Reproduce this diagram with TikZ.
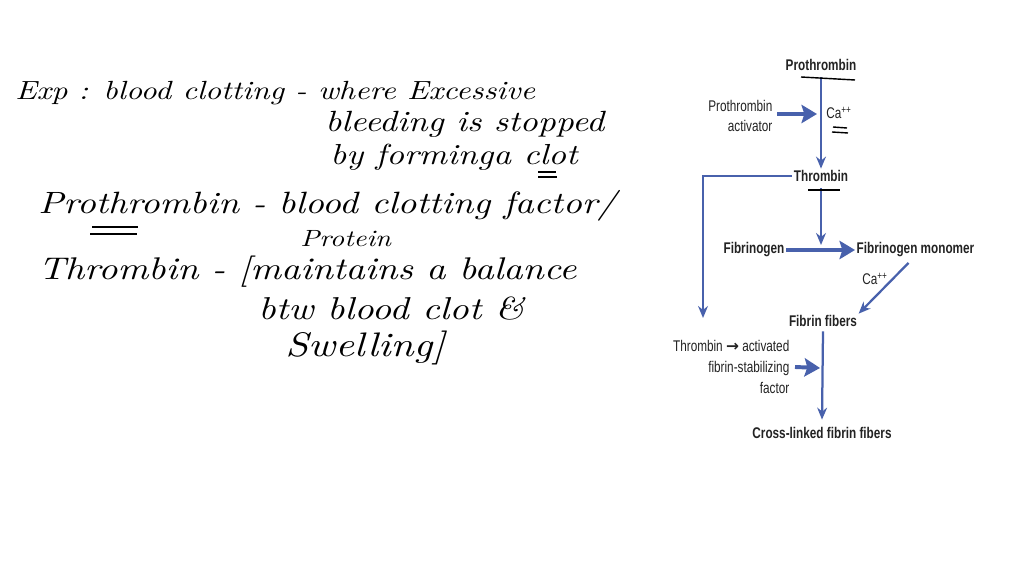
\documentclass[tikz,border=0pt]{standalone}
\usepackage{fontspec}
\usepackage{xcolor}
\usetikzlibrary{arrows.meta, calc}
\newfontfamily\diagfont[FakeStretch=0.76]{Liberation Sans}
\newfontfamily\handfont[FakeStretch=1.2]{lmroman10-italic.otf}
\definecolor{arrowblue}{RGB}{72,97,172}
\definecolor{inkgray}{RGB}{35,35,35}

\begin{document}
\begin{tikzpicture}[x=0.025cm, y=-0.025cm,
    >={Stealth[length=8.5pt, width=7pt]},
    hand/.style={anchor=base west, inner sep=0pt, font=\handfont\fontsize{#1}{#1}\selectfont},
    hand/.default=19,
    lbl/.style={inner sep=1pt, text=inkgray, font=\diagfont\fontsize{11}{14.8}\selectfont},
    blbl/.style={inner sep=1pt, text=inkgray, font=\diagfont\fontsize{11}{14.8}\selectfont\bfseries},
    flow/.style={->, draw=arrowblue, line width=1.6pt},
    push/.style={-{Stealth[length=11pt, width=13pt, inset=2pt]}, draw=arrowblue, line width=2.8pt},
    pen/.style={draw=black, line width=1pt}]
    \useasboundingbox[fill=white] (0,0) rectangle (1024,576);

    \node[hand=18.7] (n1) at (15,100) {Exp : blood clotting - where Excessive};
    \node[hand=20.8] (n2) at (325,132) {bleeding is stopped};
    \node[hand=20.6] (n3) at (330,165) {by forminga clot};
    \node[hand=21.9] (n4) at (38,214) {Prothrombin - blood clotting factor/};
    \node[hand=16.7] (n5) at (300,247) {Protein};
    \node[hand=22.3] (n6) at (38,280) {Thrombin - [maintains a balance};
    \node[hand=22.5] (n7) at (258,320) {btw blood clot \&};
    \node[hand=24.2] (n8) at (285,357) {Swelling]};
    \draw[pen] (538,172) -- (556,172);
    \draw[pen] (538,177) -- (557,177);
    \draw[pen] (92,227) -- (138,227);
    \draw[pen] (90,234) -- (137,234);

    \node[blbl] (pro) at (821,65) {Prothrombin};
    \node[lbl, align=right, anchor=east] (act) at (774,116) {Prothrombin\\activator};
    \node[lbl] (ca1) at (839,113) {Ca\textsuperscript{++}};
    \node[blbl] (thr) at (821,176) {Thrombin};
    \node[blbl, anchor=east] (fgn) at (786,250) {Fibrinogen};
    \node[blbl, anchor=west] (mono) at (855,250) {Fibrinogen monomer};
    \node[lbl] (ca2) at (875,279) {Ca\textsuperscript{++}};
    \node[blbl] (fib) at (823,321) {Fibrin fibers};
    \node[lbl, align=right, anchor=east] (fsf) at (791,367) {Thrombin {\fontspec{DejaVu Sans}\bfseries\symbol{"2192}} activated\\fibrin-stabilizing\\factor};
    \node[blbl] (cross) at (822,433) {Cross-linked fibrin fibers};
    \coordinate (j1) at (817,114);
    \coordinate (j2) at (821,245);
    \coordinate (j3) at (820,368);
    \coordinate (tb) at (703,318);

    \draw[flow] ($(pro.south)+(0,5)$) -- (thr.north);
    \draw[push] ($(act.east)+(3,-2)$) -- (j1);
    \draw[flow] (thr.west) -| (tb);
    \draw[flow] ($(thr.south)+(0,5)$) -- (j2);
    \draw[push] (fgn.east) -- (mono.west);
    \draw[flow] ($(mono.south)+(-7,4)$) -- (fib.north east);
    \draw[push] ($(fsf.east)+(4,0)$) -- (j3);
    \draw[flow] ($(fib.south)+(0,3)$) -- ($(cross.north)+(0,-6)$);

    \draw[pen] (801,77) -- (855,80);
    \draw[pen] (808,190) -- (840,190);
    \draw[pen] (833,127) -- (847,128);
    \draw[pen] (832,132) -- (848,133);
\end{tikzpicture}
\end{document}
